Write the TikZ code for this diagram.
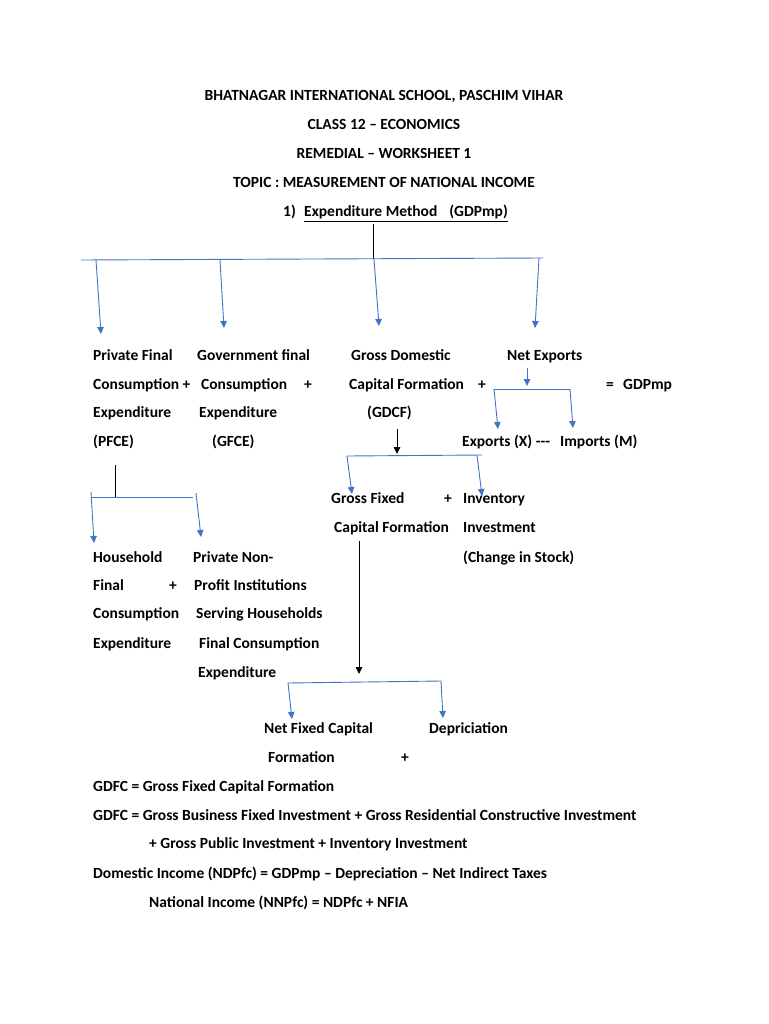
\documentclass[tikz,border=0pt]{standalone}
\usepackage{fontspec}
\setmainfont{Carlito}
\usetikzlibrary{arrows.meta}
\definecolor{lnblue}{RGB}{68,114,196}
\tikzset{
  txt/.style={anchor=base west,inner sep=0pt,font=\fontsize{15.5}{18}\selectfont\bfseries},
  ctxt/.style={anchor=base,inner sep=0pt,font=\fontsize{15.5}{18}\selectfont\bfseries},
  bline/.style={draw=lnblue,line width=0.9pt},
  barrow/.style={draw=lnblue,line width=0.9pt,-{Triangle[length=7pt,width=6.5pt]}},
  kline/.style={draw=black,line width=0.9pt},
  karrow/.style={draw=black,line width=0.9pt,-{Triangle[length=7pt,width=6.5pt]}},
}
\begin{document}
\begin{tikzpicture}[x=1pt,y=-1pt]
\useasboundingbox[fill=white] (0,0) rectangle (768,1024);
% titles
\node[ctxt] (t1) at (384,101) {BHATNAGAR INTERNATIONAL SCHOOL, PASCHIM VIHAR};
\node[ctxt] (t2) at (384,130) {CLASS 12 – ECONOMICS};
\node[ctxt] (t3) at (384,159) {REMEDIAL – WORKSHEET 1};
\node[ctxt] (t4) at (384,188) {TOPIC : MEASUREMENT OF NATIONAL INCOME};
\node[txt] (n1) at (283,217) {1)};
\node[txt] (head) at (304,217) {\underline{Expenditure Method\hspace{12pt}(GDPmp)}};
% row 1
\node[txt] (pf1) at (93,360) {Private Final};
\node[txt] (gf1) at (197,360) {Government final};
\node[txt] (gd1) at (351,360) {Gross Domestic};
\node[txt] (ne) at (507,360) {Net Exports};
% row 2
\node[txt] (pf2) at (93,389) {Consumption +};
\node[txt] (gf2) at (201,389) {Consumption};
\node[txt] (gfp) at (304,389) {+};
\node[txt] (gd2) at (349,389) {Capital Formation};
\node[txt] (gdp) at (478,389) {+};
\node[txt] (eq) at (606,389) {=};
\node[txt] (gdpmp) at (623,389) {GDPmp};
% row 3
\node[txt] (pf3) at (93,417) {Expenditure};
\node[txt] (gf3) at (199,417) {Expenditure};
\node[txt] (gd3) at (367,417) {(GDCF)};
% row 4
\node[txt] (pf4) at (93,446) {(PFCE)};
\node[txt] (gf4) at (212,446) {(GFCE)};
\node[txt] (ex) at (462,446) {Exports (X) -{}-{}-};
\node[txt] (im) at (560,446) {Imports (M)};
% GDCF split
\node[txt] (gfc1) at (331,503) {Gross Fixed};
\node[txt] (gfcp) at (444,503) {+};
\node[txt] (inv1) at (463,503) {Inventory};
\node[txt] (gfc2) at (334,532) {Capital Formation};
\node[txt] (inv2) at (463,532) {Investment};
\node[txt] (inv3) at (463,562) {(Change in Stock)};
% PFCE split
\node[txt] (hh1) at (93,562) {Household};
\node[txt] (hh2) at (93,590) {Final};
\node[txt] (hhp) at (169,590) {+};
\node[txt] (hh3) at (93,618) {Consumption};
\node[txt] (hh4) at (93,648) {Expenditure};
\node[txt] (np1) at (193,562) {Private Non-};
\node[txt] (np2) at (194,590) {Profit Institutions};
\node[txt] (np3) at (196,618) {Serving Households};
\node[txt] (np4) at (199,648) {Final Consumption};
\node[txt] (np5) at (198,677) {Expenditure};
% GFCF split
\node[txt] (nf1) at (264,733) {Net Fixed Capital};
\node[txt] (nf2) at (268,762) {Formation};
\node[txt] (nfp) at (401,762) {+};
\node[txt] (dep) at (429,733) {Depriciation};
% notes
\node[txt] (f1) at (93,791) {GDFC = Gross Fixed Capital Formation};
\node[txt] (f2) at (93,820) {GDFC = Gross Business Fixed Investment + Gross Residential Constructive Investment};
\node[txt] (f3) at (149,848) {+ Gross Public Investment + Inventory Investment};
\node[txt] (f4) at (93,878) {Domestic Income (NDPfc) = GDPmp – Depreciation – Net Indirect Taxes};
\node[txt] (f5) at (149,907) {National Income (NNPfc) = NDPfc + NFIA};
% coordinates
\coordinate (top) at (373,224);
\coordinate (topj) at (373,259);
\coordinate (barL) at (81,260);
\coordinate (barR) at (543,258);
\coordinate (a1s) at (96,260); \coordinate (a1e) at (101,334);
\coordinate (a2s) at (220,260); \coordinate (a2e) at (224,328);
\coordinate (a3s) at (374,259); \coordinate (a3e) at (379,326);
\coordinate (a4s) at (539,258); \coordinate (a4e) at (535,328);
\coordinate (nes) at (527,368); \coordinate (nee) at (527,386);
\coordinate (neL) at (494,389); \coordinate (neR) at (570,389);
\coordinate (exe) at (498,429); \coordinate (ime) at (573,428);
\coordinate (gds) at (397,429); \coordinate (gde) at (397,454);
\coordinate (gdL) at (347,456); \coordinate (gdR) at (482,455);
\coordinate (gfe) at (352,494); \coordinate (ivs) at (477,455); \coordinate (ive) at (482,496);
\coordinate (pfs) at (115,465); \coordinate (pfj) at (115,497);
\coordinate (pfL) at (92,497); \coordinate (pfR) at (193,497);
\coordinate (hhs) at (91,492); \coordinate (hhe) at (94,543);
\coordinate (nps) at (196,493); \coordinate (npe) at (201,537);
\coordinate (gcs) at (359,541); \coordinate (gce) at (359,674);
\coordinate (gcL) at (288,683); \coordinate (gcR) at (441,681);
\coordinate (nfe) at (292,719); \coordinate (dpe) at (443,718);
% connectors
\draw[kline] (top) -- (topj);
\draw[bline] (barL) -- (barR);
\draw[barrow] (a1s) -- (a1e);
\draw[barrow] (a2s) -- (a2e);
\draw[barrow] (a3s) -- (a3e);
\draw[barrow] (a4s) -- (a4e);
\draw[barrow] (nes) -- (nee);
\draw[bline] (neL) -- (neR);
\draw[barrow] (neL) -- (exe);
\draw[barrow] (neR) -- (ime);
\draw[karrow] (gds) -- (gde);
\draw[bline] (gdL) -- (gdR);
\draw[barrow] (gdL) -- (gfe);
\draw[barrow] (ivs) -- (ive);
\draw[kline] (pfs) -- (pfj);
\draw[bline] (pfL) -- (pfR);
\draw[barrow] (hhs) -- (hhe);
\draw[barrow] (nps) -- (npe);
\draw[karrow] (gcs) -- (gce);
\draw[bline] (gcL) -- (gcR);
\draw[barrow] (gcL) -- (nfe);
\draw[barrow] (gcR) -- (dpe);
\end{tikzpicture}
\end{document}
